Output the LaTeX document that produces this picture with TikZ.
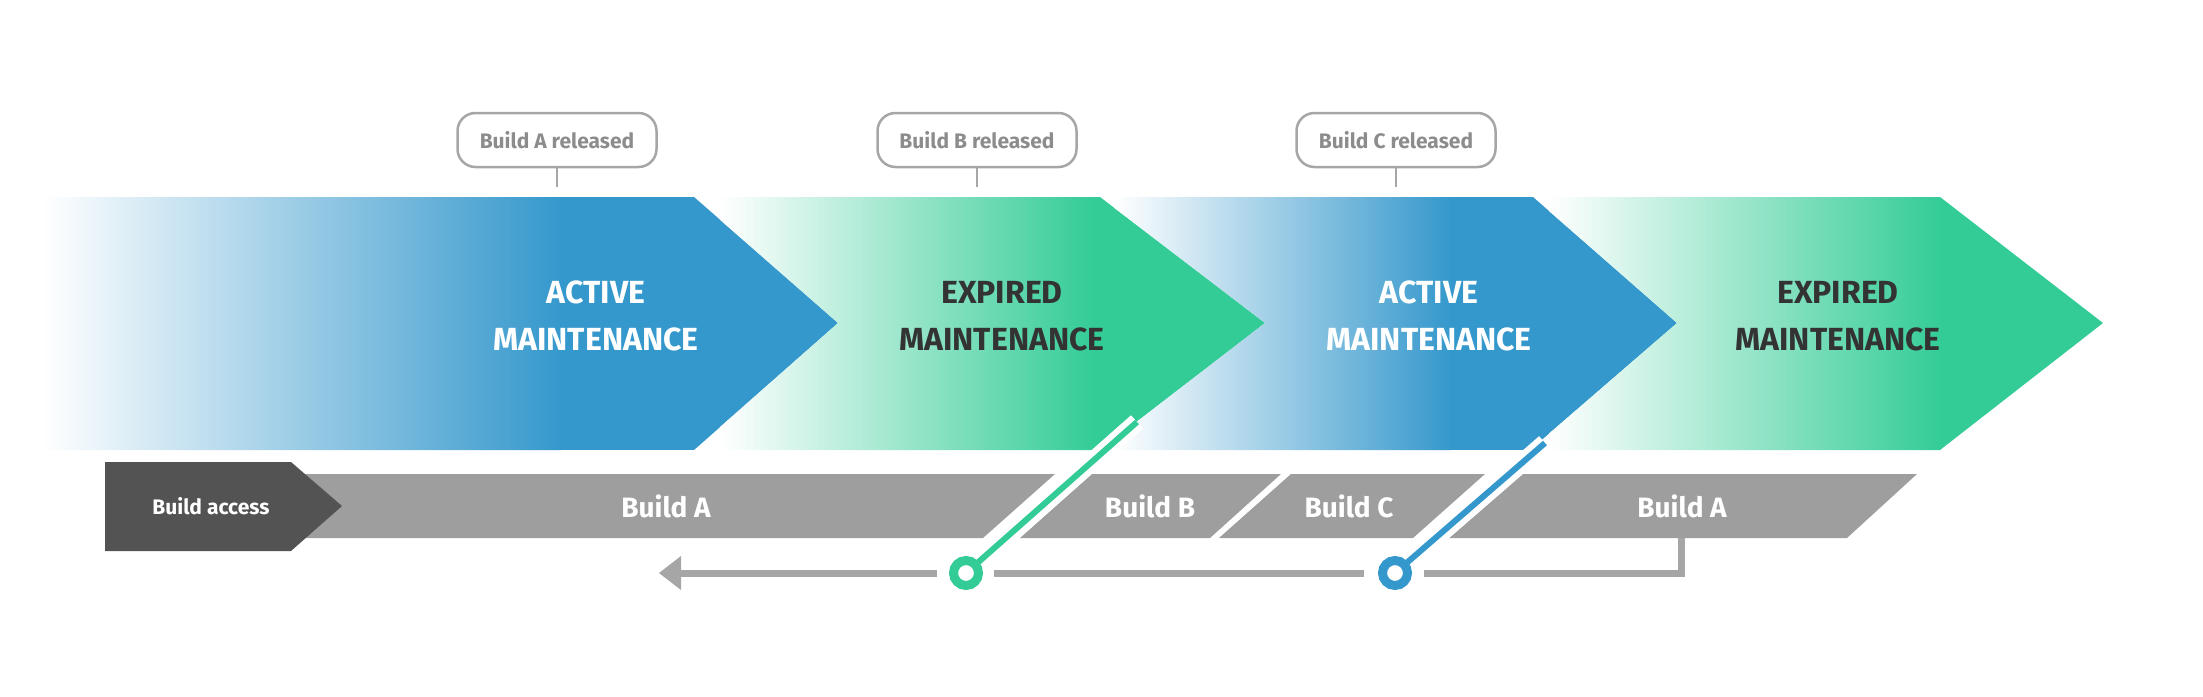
\documentclass[tikz,border=0pt]{standalone}
\usepackage{fontspec}
\setmainfont{Fira Sans}
\begin{document}
\definecolor{cblue}{HTML}{3598CC}
\definecolor{cgreen}{HTML}{33CC96}
\definecolor{cbar}{HTML}{9E9E9E}
\definecolor{cdark}{HTML}{535353}
\definecolor{cgline}{HTML}{A6A6A6}
\definecolor{ctxt}{HTML}{333333}
\begin{tikzpicture}[x=1pt,y=-1pt,
  big/.style={font=\fontsize{32}{47}\selectfont\bfseries,align=center},
  rel/.style={draw=cgline,line width=2.5pt,rounded corners=18pt,minimum width=199pt,minimum height=54pt,inner sep=0pt,text=gray!90,font=\fontsize{21}{24}\selectfont\bfseries},
  stem/.style={draw=cgline,line width=2.5pt},
  bar/.style={fill=cbar},
  bartxt/.style={text=white,font=\fontsize{28}{30}\selectfont\bfseries},
  gline/.style={draw=cgline,line width=7pt},
  ring/.style={line width=9pt},
  conn/.style={line width=6pt}]
\useasboundingbox (0,0) rectangle (2203,696);
% chevrons
\begin{scope}
 \clip (42,197) -- (694,197) -- (838,323) -- (694,450) -- (42,450) -- cycle;
 \shade[left color=white,right color=cblue] (42,197) rectangle (561,450);
 \fill[cblue] (560,197) rectangle (840,450);
\end{scope}
\begin{scope}
 \clip (694,197) -- (1100,197) -- (1265,323) -- (1100,450) -- (694,450) -- (838,323) -- cycle;
 \shade[left color=white,right color=cgreen] (720,197) rectangle (1094,450);
 \fill[cgreen] (1093,197) rectangle (1270,450);
\end{scope}
\begin{scope}
 \clip (1100,197) -- (1533,197) -- (1677,323) -- (1530,450) -- (1100,450) -- (1265,323) -- cycle;
 \shade[left color=white,right color=cblue] (1114,197) rectangle (1451,450);
 \fill[cblue] (1450,197) rectangle (1680,450);
\end{scope}
\begin{scope}
 \clip (1533,197) -- (1940,197) -- (2103,323) -- (1940,450) -- (1530,450) -- (1677,323) -- cycle;
 \shade[left color=white,right color=cgreen] (1549,197) rectangle (1942,450);
 \fill[cgreen] (1941,197) rectangle (2110,450);
\end{scope}
\node[big,text=white] (a1) at (596,316) {ACTIVE\\MAINTENANCE};
\node[big,text=ctxt] (e1) at (1002,316) {EXPIRED\\MAINTENANCE};
\node[big,text=white] (a2) at (1429,316) {ACTIVE\\MAINTENANCE};
\node[big,text=ctxt] (e2) at (1838,316) {EXPIRED\\MAINTENANCE};
% release labels
\node[rel] (ra) at (557,140) {Build A released};
\node[rel] (rb) at (977,140) {Build B released};
\node[rel] (rc) at (1396,140) {Build C released};
\coordinate (sa) at (557,187); \coordinate (sb) at (977,187); \coordinate (sc) at (1396,187);
\draw[stem] (ra.south) -- (sa);
\draw[stem] (rb.south) -- (sb);
\draw[stem] (rc.south) -- (sc);
% bars
\fill[bar] (291,474) -- (1055,474) -- (983,538) -- (291,538) -- cycle;
\fill[bar] (1092,474) -- (1281,474) -- (1210,538) -- (1020,538) -- cycle;
\fill[bar] (1291,474) -- (1485,474) -- (1413,538) -- (1219,538) -- cycle;
\fill[bar] (1522,474) -- (1917,474) -- (1847,538) -- (1449,538) -- cycle;
\fill[cdark] (105,462) -- (291,462) -- (342,506) -- (291,551) -- (105,551) -- cycle;
\node[text=white,font=\fontsize{21}{24}\selectfont\bfseries] (ba) at (211,506) {Build access};
\node[bartxt] (b1) at (666,506) {Build A};
\node[bartxt] (b2) at (1150,506) {Build B};
\node[bartxt] (b3) at (1349,506) {Build C};
\node[bartxt] (b4) at (1682,506) {Build A};
% timeline
\coordinate (gc) at (966,573);
\coordinate (bc) at (1395,573);
\coordinate (gt) at (1137,422);
\coordinate (bt) at (1545,443);
\coordinate (arr) at (681,573);
\coordinate (tip) at (659,573);
\coordinate (l1) at (937,573);
\coordinate (l2) at (994,573);
\coordinate (l3) at (1364,573);
\coordinate (l4) at (1424,573);
\coordinate (l5) at (1681,573);
\coordinate (l6) at (1681,538);
\draw[gline] (arr) -- (l1);
\fill[cgline] (tip) -- (681,556) -- (681,590) -- cycle;
\draw[gline] (l2) -- (l3);
\draw[gline] (l4) -- (l5) -- (l6);
\draw[white,line width=18pt] (gc) -- (gt);
\draw[white,line width=18pt] (bc) -- (bt);
\draw[cgreen,conn] (gc) -- (gt);
\draw[cblue,conn] (bc) -- (bt);
\draw[cgreen,ring,fill=white] (gc) circle (12.5);
\draw[cblue,ring,fill=white] (bc) circle (12.5);
\end{tikzpicture}
\end{document}
